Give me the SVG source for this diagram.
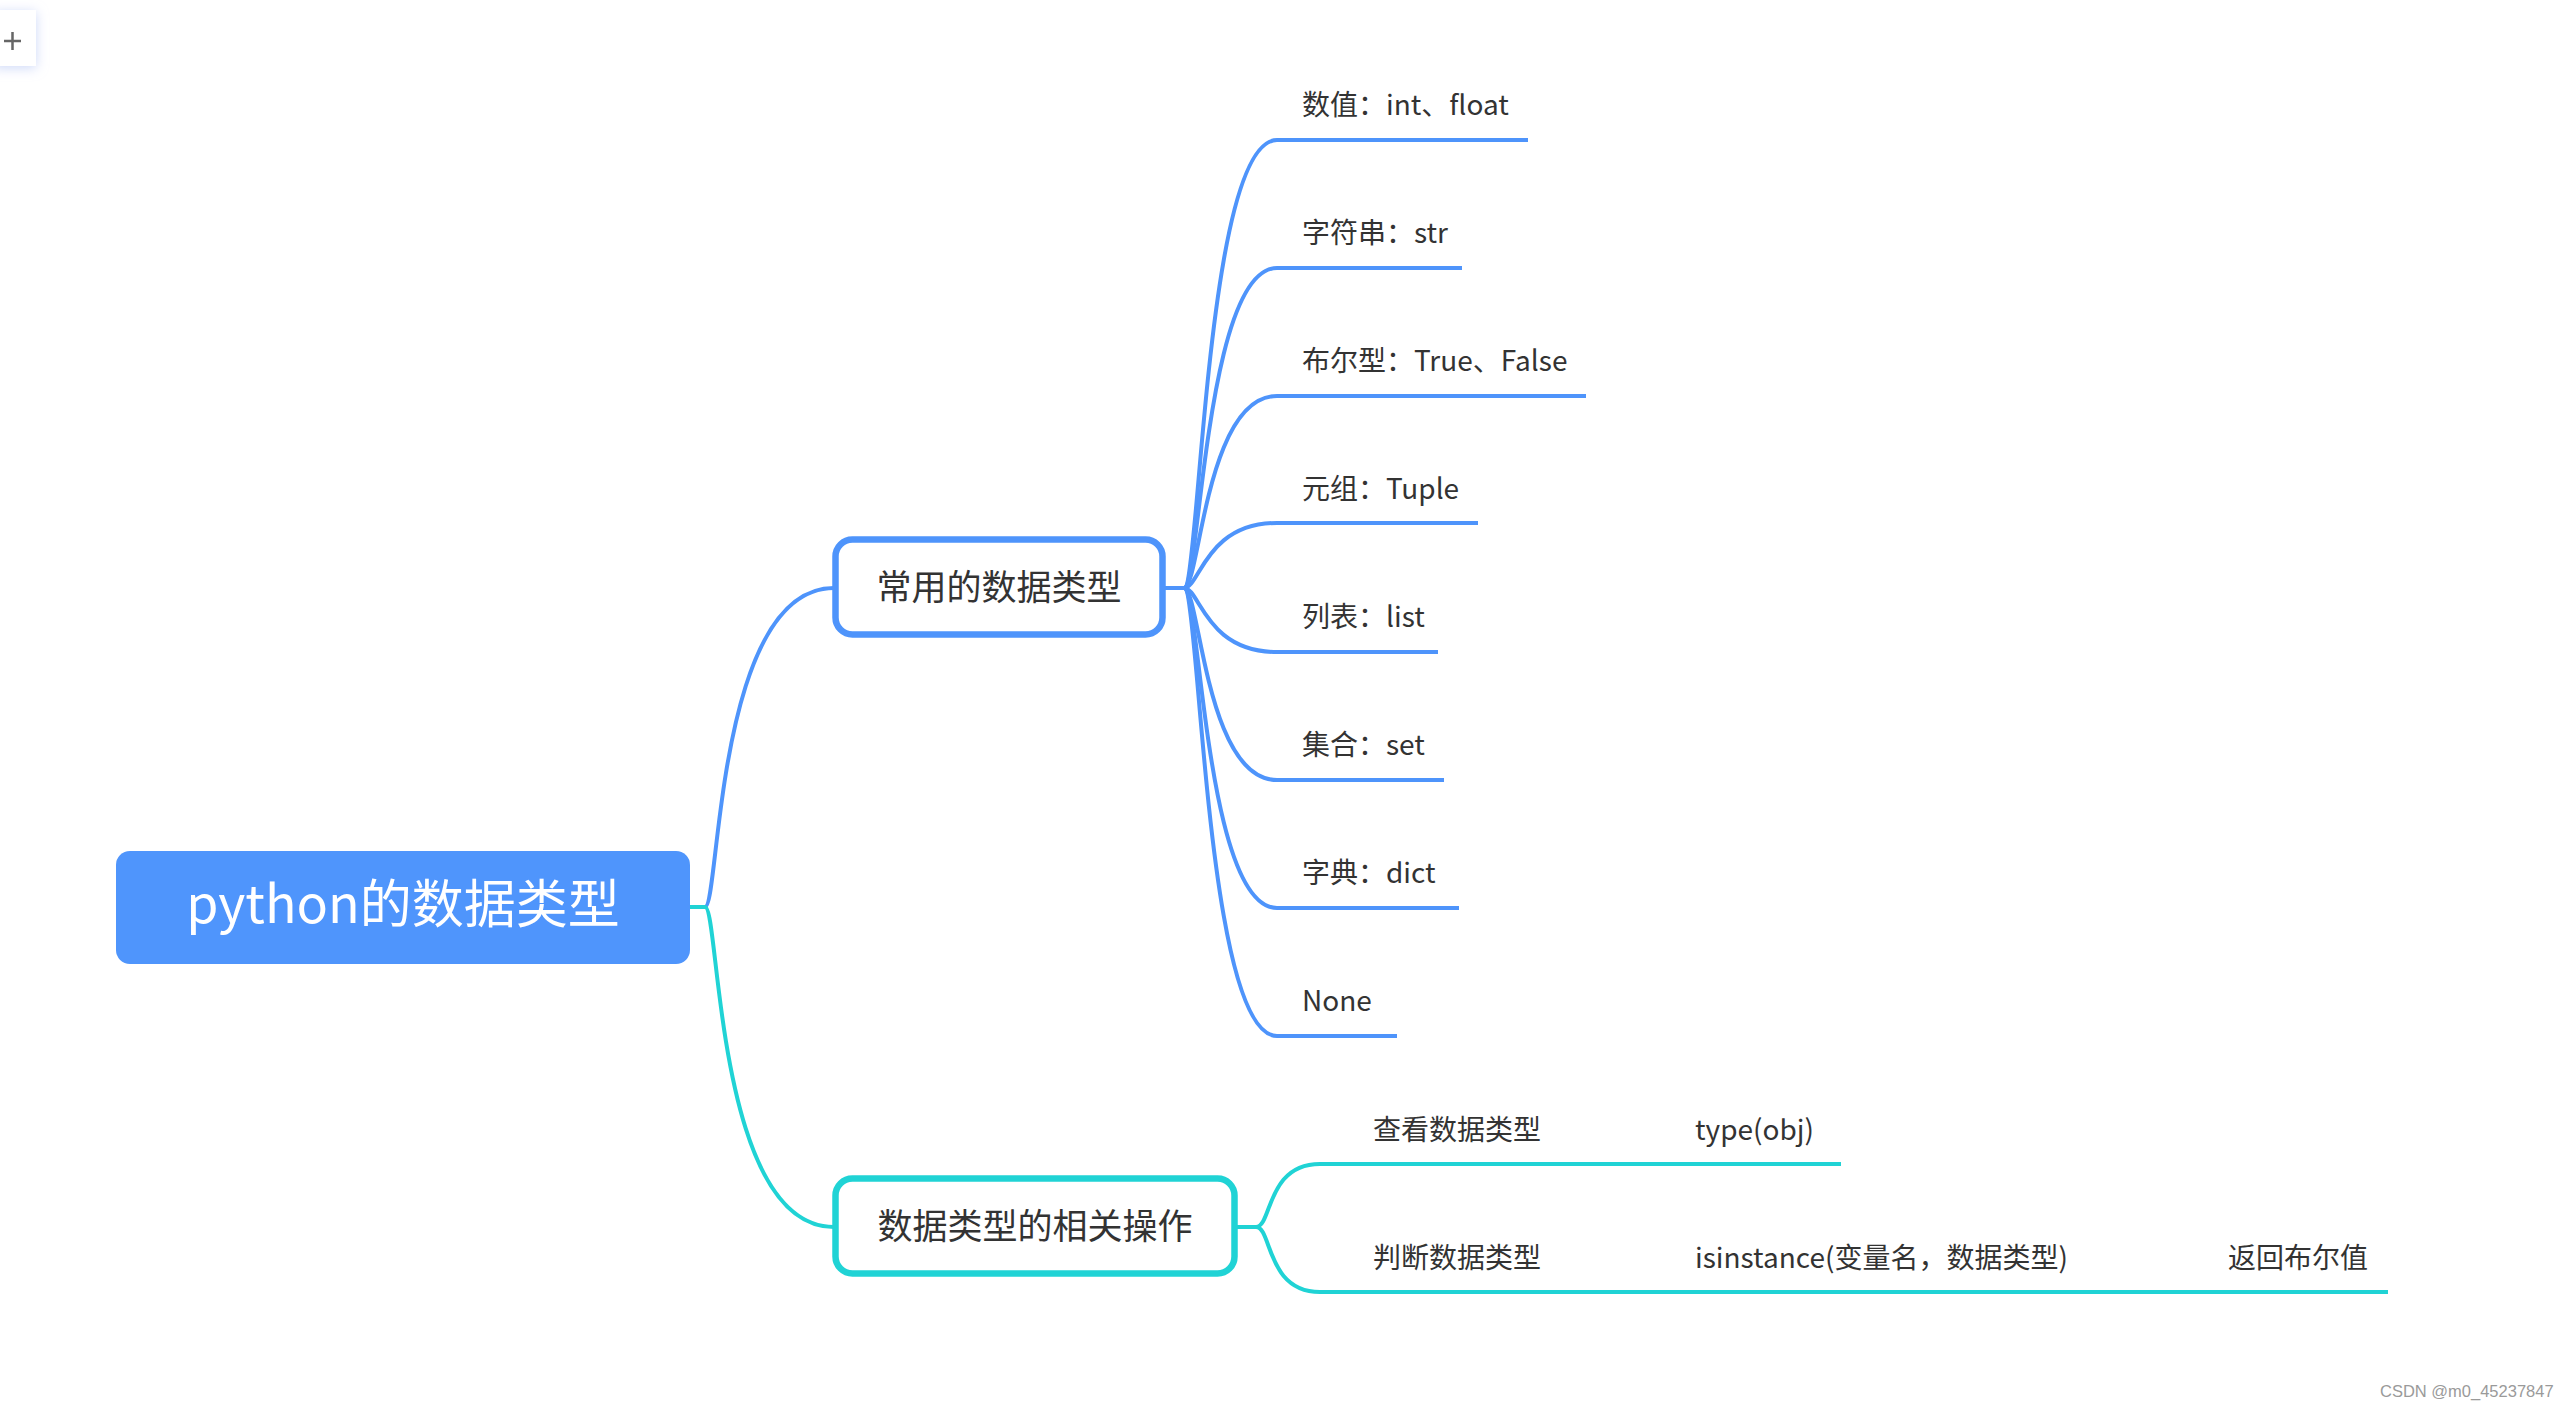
<svg xmlns="http://www.w3.org/2000/svg" width="2570" height="1410" viewBox="0 0 2570 1410">
<defs>
<style>
.t{font-family:"Noto Sans CJK SC","Noto Sans",sans-serif;fill:#333;}
.c{font-size:28px;}
.blue{fill:none;stroke:#4e94fb;stroke-width:4;stroke-linecap:butt;}
.teal{fill:none;stroke:#20d3d5;stroke-width:4;stroke-linecap:butt;}
</style>
<filter id="sh" x="-50%" y="-50%" width="200%" height="200%">
<feDropShadow dx="0" dy="2" stdDeviation="6" flood-color="#b8c8f5" flood-opacity="0.7"/>
</filter>
</defs>
<rect width="2570" height="1410" fill="#ffffff"/>
<g id="zoom-button">
<rect x="-6" y="10" width="42" height="56" fill="#ffffff" filter="url(#sh)"/>
<path d="M4 41 H21 M12.5 32 V50" stroke="#666" stroke-width="2.5" fill="none"/>
</g>
<g id="connectors">
<path class="blue" d="M705 907 C720 907 715 588 834 588"/>
<path class="teal" d="M690 907 H705 C720 907 715 1227 834 1227"/>
<path class="blue" d="M1164 588 H1184"/>
<path class="blue" d="M1184 588 C1200 588 1205 140 1277 140 H1528"/>
<path class="blue" d="M1184 588 C1200 588 1205 268 1277 268 H1462"/>
<path class="blue" d="M1184 588 C1200 588 1205 396 1277 396 H1586"/>
<path class="blue" d="M1184 588 C1200 588 1205 523 1277 523 H1478"/>
<path class="blue" d="M1184 588 C1200 588 1205 652 1277 652 H1438"/>
<path class="blue" d="M1184 588 C1200 588 1205 780 1277 780 H1444"/>
<path class="blue" d="M1184 588 C1200 588 1205 908 1277 908 H1459"/>
<path class="blue" d="M1184 588 C1200 588 1205 1036 1277 1036 H1397"/>
<path class="teal" d="M1236 1227 H1256"/>
<path class="teal" d="M1256 1227 C1272 1227 1266 1164 1320 1164 H1841"/>
<path class="teal" d="M1256 1227 C1272 1227 1266 1292 1320 1292 H2388"/>
</g>
<g id="root">
<rect x="116" y="851" width="574" height="113" rx="14" fill="#4f95fc"/>
<text class="t" x="403" y="923" font-size="52" text-anchor="middle" style="fill:#ffffff">python的数据类型</text>
</g>
<g id="node-common-types">
<rect x="835.5" y="539.5" width="327" height="95" rx="17" fill="#ffffff" stroke="#4e94fb" stroke-width="6.5"/>
<text class="t" x="999" y="600" font-size="35" text-anchor="middle">常用的数据类型</text>
</g>
<g id="node-operations">
<rect x="835.5" y="1178.5" width="399" height="95" rx="17" fill="#ffffff" stroke="#20d3d5" stroke-width="6.5"/>
<text class="t" x="1035" y="1239" font-size="35" text-anchor="middle">数据类型的相关操作</text>
</g>
<g id="leaf-number"><text class="t c" x="1302" y="115">数值：int、float</text></g>
<g id="leaf-str"><text class="t c" x="1302" y="243">字符串：str</text></g>
<g id="leaf-bool"><text class="t c" x="1302" y="371">布尔型：True、False</text></g>
<g id="leaf-tuple"><text class="t c" x="1302" y="499">元组：Tuple</text></g>
<g id="leaf-list"><text class="t c" x="1302" y="627">列表：list</text></g>
<g id="leaf-set"><text class="t c" x="1302" y="755">集合：set</text></g>
<g id="leaf-dict"><text class="t c" x="1302" y="883">字典：dict</text></g>
<g id="leaf-none"><text class="t c" x="1302" y="1011">None</text></g>
<g id="op-view"><text class="t c" x="1373" y="1140">查看数据类型</text></g>
<g id="op-view-type"><text class="t c" x="1695" y="1140">type(obj)</text></g>
<g id="op-check"><text class="t c" x="1373" y="1268">判断数据类型</text></g>
<g id="op-check-isinstance"><text class="t c" x="1695" y="1268">isinstance(变量名，数据类型)</text></g>
<g id="op-check-return"><text class="t c" x="2228" y="1268">返回布尔值</text></g>
<text x="2380" y="1397" font-family="Liberation Sans, Arial, sans-serif" font-size="16.5" fill="#9a9a9a">CSDN @m0_45237847</text>
</svg>
